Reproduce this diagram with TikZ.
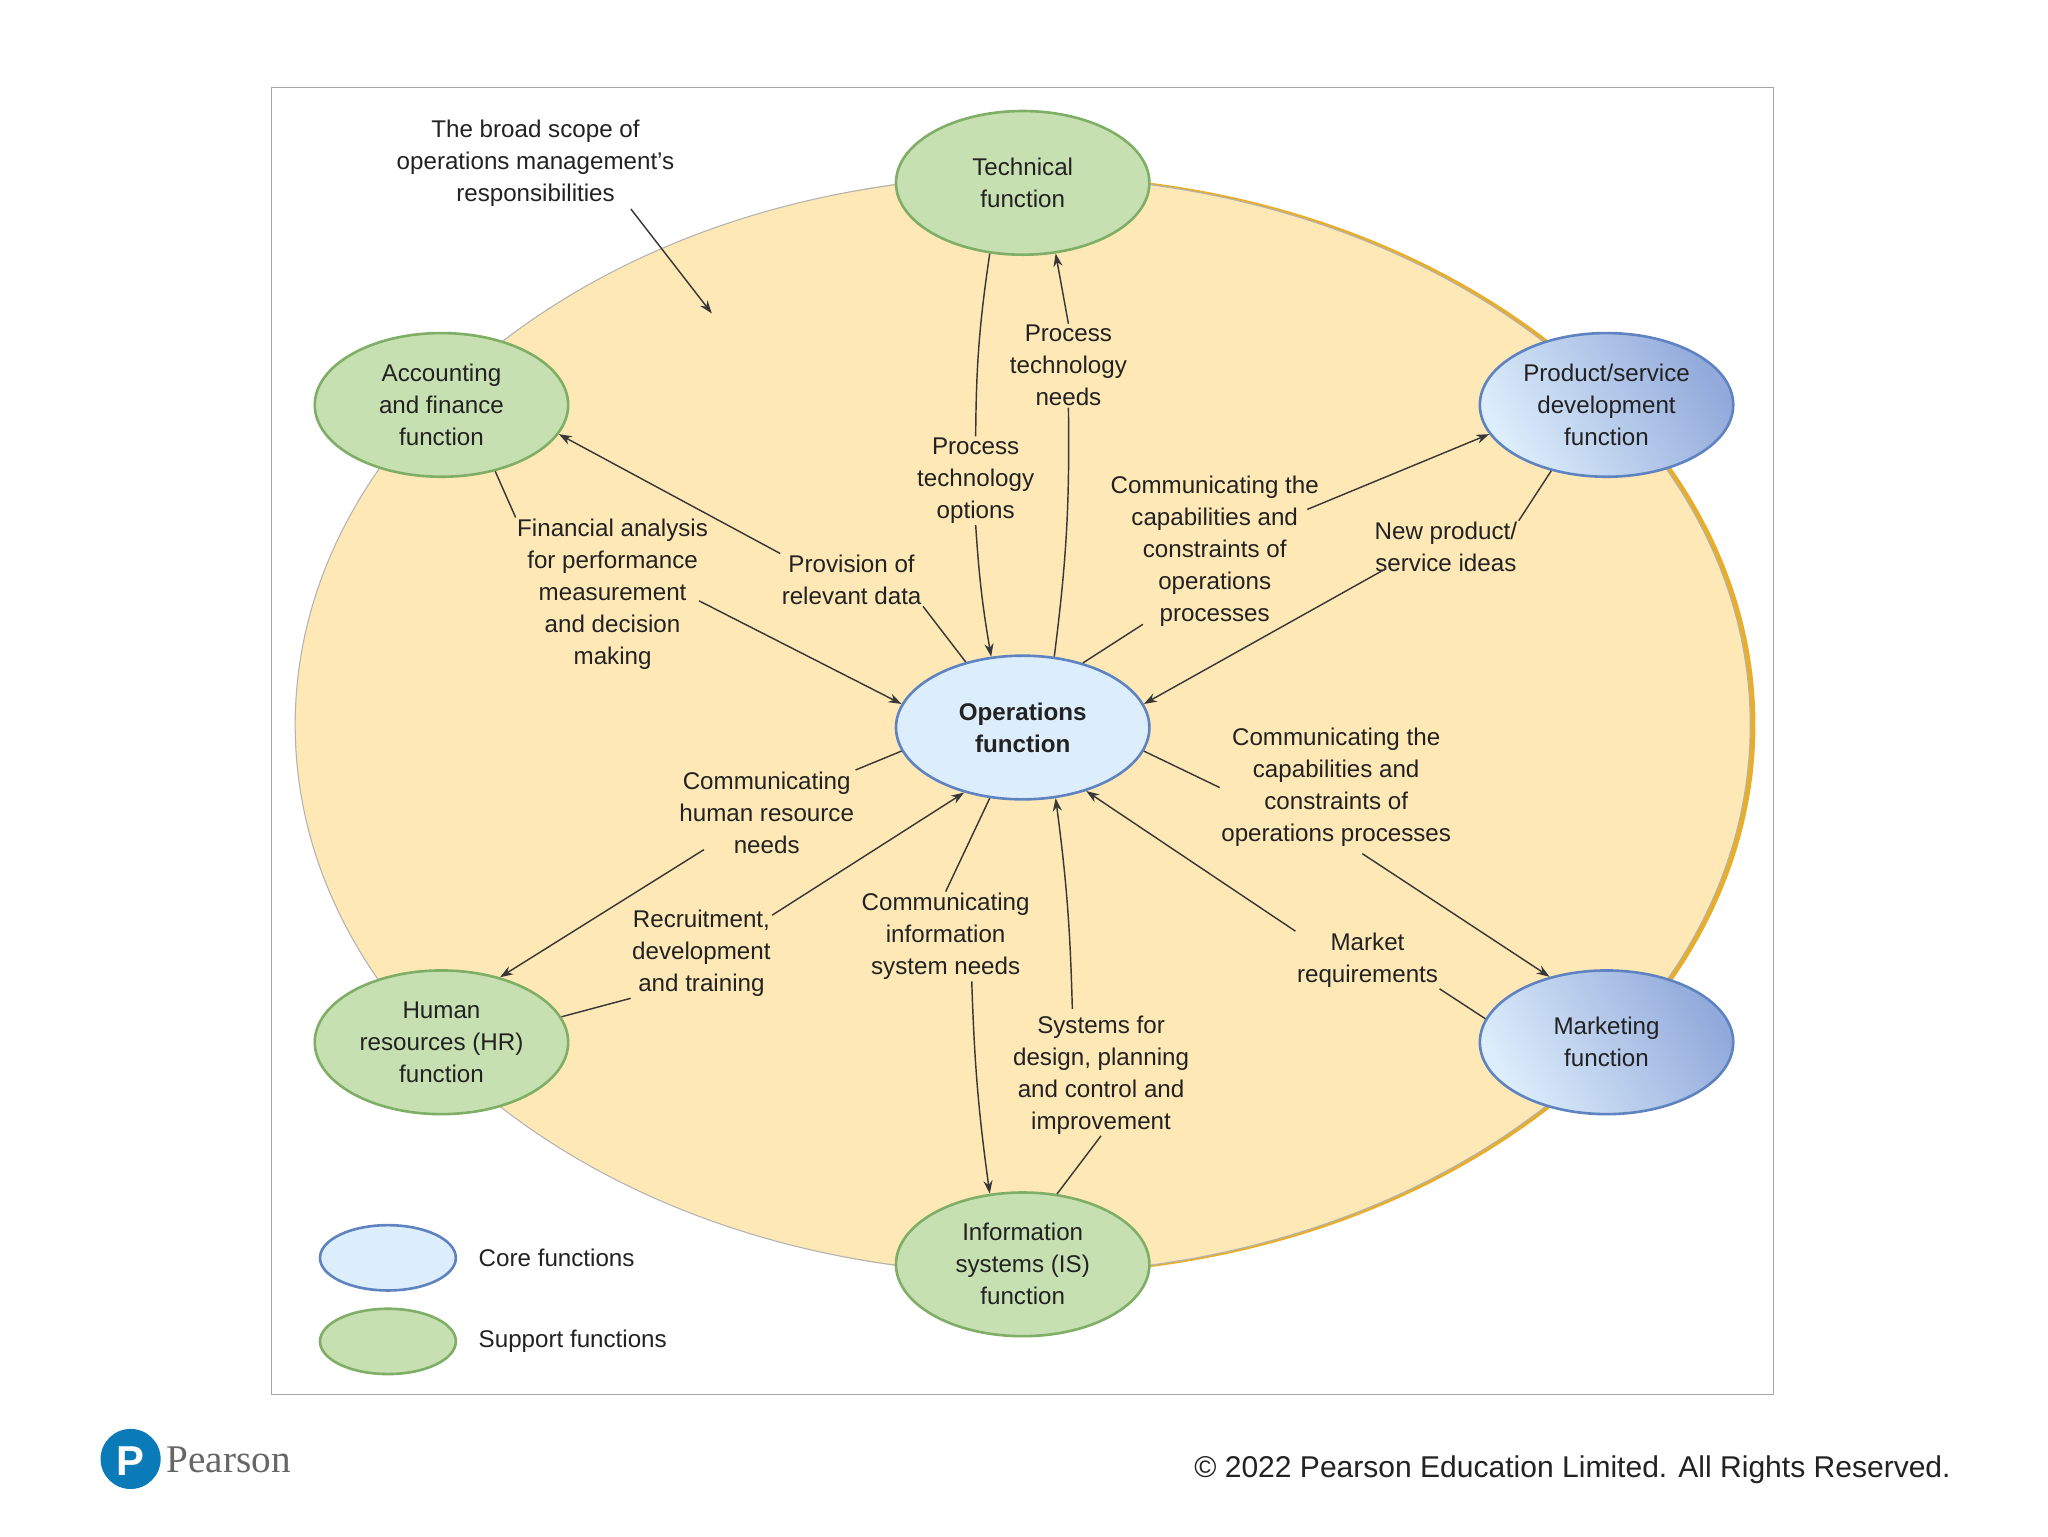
\documentclass[tikz,border=0pt]{standalone}
\usepackage{fontspec}
\setmainfont{Liberation Sans}
\newfontfamily\pserif{Liberation Serif}
\usetikzlibrary{shapes.geometric,arrows.meta}
\definecolor{bigfill}{HTML}{FDE8B6}
\definecolor{gold}{HTML}{E8AE2A}
\definecolor{gfill}{HTML}{C7E0B2}
\definecolor{gline}{HTML}{7FAE66}
\definecolor{bfill}{HTML}{DCEDFB}
\definecolor{bdark}{HTML}{92AADB}
\definecolor{bline}{HTML}{5F83C0}
\definecolor{txt}{HTML}{222222}
\definecolor{pblue}{HTML}{0A7AB8}
\begin{document}
\begin{tikzpicture}[x=1pt,y=-1pt,
  font=\fontsize{18.5}{24.5}\selectfont, text=txt,
  fn/.style={ellipse,minimum width=194pt,minimum height=110pt,inner sep=0pt,align=center,line width=2pt},
  sup/.style={fn,fill=gfill,draw=gline},
  core/.style={fn,fill=bfill,draw=bline},
  core2/.style={fn,left color=bfill,right color=bdark,shading angle=120,draw=bline},
  lab/.style={align=center,inner sep=1pt},
  ln/.style={draw=txt!90,line width=1.1pt},
  ar/.style={ln,-{Stealth[length=10pt,width=7pt]}}]
\useasboundingbox (0,0) rectangle (1568,1176);
\fill[white] (0,0) rectangle (1568,1176);
\draw[gray!70,line width=0.8pt] (208,67) rectangle (1358,1068);
% big ellipse
\fill[gold] (787,555) ellipse [x radius=557,y radius=421];
\filldraw[fill=bigfill,draw=gray!60,line width=0.8pt] (783,555) ellipse [x radius=557,y radius=420];

\node[sup] (tech) at (783,140) {Technical\\function};
\node[sup] (acc) at (338,310) {Accounting\\and finance\\function};
\node[core2] (prod) at (1230,310) {Product/service\\development\\function};
\node[core,font=\fontsize{18.5}{24.5}\selectfont\bfseries] (ops) at (783,557) {Operations\\function};
\node[sup] (hr) at (338,798) {Human\\resources (HR)\\function};
\node[core2] (mkt) at (1230,798) {Marketing\\function};
\node[sup] (is) at (783,968) {Information\\systems (IS)\\function};

% legend
\node[core,minimum width=104pt,minimum height=50pt] (lc) at (297,963) {};
\node[sup,minimum width=104pt,minimum height=50pt] (ls) at (297,1027) {};
\node[anchor=west] (lct) at (363,963) {Core functions};
\node[anchor=west] (lst) at (363,1027) {Support functions};

% title
\node[lab] (scope) at (410,125) {The broad scope of\\operations management's\\responsibilities};
\coordinate (scopestart) at (483,160);
\coordinate (scopeend) at (545,240);
\draw[ar] (scopestart) -- (scopeend);

% labels
\node[lab] (l1) at (747,368) {Process\\technology\\options};
\node[lab] (l2) at (818,280) {Process\\technology\\needs};
\node[lab] (l3) at (652,444) {Provision of\\relevant data};
\node[lab] (l4) at (469,455) {Financial analysis\\for performance\\measurement\\and decision\\making};
\node[lab] (l5) at (930,422) {Communicating the\\capabilities and\\constraints of\\operations\\processes};
\node[lab] (l6) at (1107,419) {New product/\\service ideas};
\node[lab] (l7) at (1023,603) {Communicating the\\capabilities and\\constraints of\\operations processes};
\node[lab] (l8) at (1047,735) {Market\\requirements};
\node[lab] (l9) at (587,622) {Communicating\\human resource\\needs};
\node[lab] (l10) at (537,730) {Recruitment,\\development\\and training};
\node[lab] (l11) at (724,717) {Communicating\\information\\system needs};
\node[lab] (l12) at (843,823) {Systems for\\design, planning\\and control and\\improvement};

\coordinate (c5) at (875,478);
% connectors
\draw[ln] (tech.245) to[bend right=4] (l1.north);
\draw[ar] (l1.south) to[bend right=3] (ops.114);
\draw[ln] (ops.66) to[bend right=4] (l2.south);
\draw[ar] (l2.north) -- (tech.295);
\draw[ln] (ops.131) -- (l3.south east);
\draw[ar] (l3.north west) -- (acc.346);
\draw[ln] (acc.309) -- (l4.north west);
\draw[ar] (l4.east) ++(-8,5) -- (ops.169);
\draw[ln] (ops.47) -- (c5);
\draw[ar] (l5.east) ++(-10,-32) -- (prod.194);
\draw[ln] (prod.230) -- (l6.north east);
\draw[ar] (l6.south west) ++(10,-4) -- (ops.11);
\draw[ln] (ops.-11) -- (l7.west);
\draw[ar] (l7.south) ++(20,4) -- (mkt.131);
\draw[ln] (mkt.169) -- (l8.south east);
\draw[ar] (l8.north west) -- (ops.-45);
\draw[ln] (ops.191) -- (l9.north east);
\draw[ar] (l9.south west) ++(20,-4) -- (hr.48);
\draw[ln] (hr.12) -- (l10.south west);
\draw[ar] (l10.north east) ++(0,5) -- (ops.228);
\draw[ln] (ops.245) -- (l11.north);
\draw[ar] (l11.south) ++(20,0) to[bend right=3] (is.115);
\draw[ln] (is.64) -- (l12.south);
\draw[ar] (l12.north) ++(-22,-4) to[bend right=3] (ops.295);

% footer
\fill[pblue] (100,1117) circle (23);
\node[text=white,font=\fontsize{32}{32}\selectfont\bfseries] (pl) at (100,1119) {P};
\node[anchor=west,text=gray!80!black,font=\pserif\fontsize{30}{30}\selectfont] (pt) at (124,1118) {Pearson};
\node[anchor=east,text=txt,font=\fontsize{23}{23}\selectfont] (copy) at (1497,1125) {© 2022 Pearson Education Limited. All Rights Reserved.};
\end{tikzpicture}
\end{document}
